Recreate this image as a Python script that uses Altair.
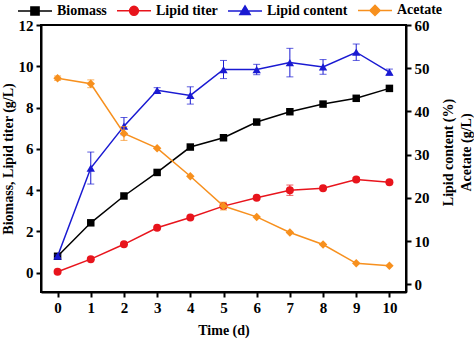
import altair as alt
import pandas as pd

days = list(range(11))
biomass = [0.80, 2.42, 3.72, 4.86, 6.09, 6.54, 7.30, 7.80, 8.17, 8.45, 8.93]
titer = [0.05, 0.66, 1.38, 2.18, 2.68, 3.23, 3.63, 4.00, 4.09, 4.52, 4.38]
titer_err = [0, 0, 0, 0, 0, 0, 0, 0.25, 0, 0.1, 0]
content = [6.5, 26.9, 36.6, 44.9, 43.7, 49.7, 49.7, 51.3, 50.3, 53.7, 49.1]
content_err = [0.3, 3.7, 2.0, 0.6, 2.0, 2.1, 1.2, 3.3, 1.7, 1.9, 0.7]
acetate = [47.7, 46.4, 34.9, 31.5, 25.0, 18.1, 15.6, 12.0, 9.2, 4.85, 4.3]
acetate_err = [0.5, 0.9, 1.6, 0, 0, 0.9, 0, 0, 0, 0, 0]

series_names = ["Biomass", "Lipid titer", "Lipid content", "Acetate"]
series_colors = ["#000000", "#e8141c", "#1a1ad2", "#f7901e"]
marker_shapes = ["square", "circle", "triangle-up", "diamond"]
marker_sizes = [56, 64, 70, 72]
legend_paths = [
    "M-1,0H1M-0.24,-0.24H0.24V0.24H-0.24Z",
    "M-1,0H1M0.26,0A0.26,0.26 0 1,1 -0.26,0A0.26,0.26 0 1,1 0.26,0Z",
    "M-1,0H1M0,-0.3L0.3,0.2L-0.3,0.2Z",
    "M-1,0H1M0,-0.3L0.3,0L0,0.3L-0.3,0Z",
]

FONT = "Liberation Serif"


def table(name, vals, errs=None):
    errs = errs or [0] * len(vals)
    return pd.DataFrame({
        "day": days,
        "value": vals,
        "lo": [v - e for v, e in zip(vals, errs)],
        "hi": [v + e for v, e in zip(vals, errs)],
        "err": errs,
        "series": name,
    })


x_enc = alt.X("day:Q", scale=alt.Scale(domain=[-0.5, 10.5], nice=False, zero=False),
              axis=alt.Axis(values=days, title="Time (d)", grid=False, tickSize=5,
                            labelPadding=3, titlePadding=8, format="d"))

left_axis = alt.Axis(values=[0, 2, 4, 6, 8, 10, 12], title="Biomass, Lipid titer (g/L)",
                     orient="left", grid=False, tickSize=5, labelPadding=3, titlePadding=3)
left_scale = alt.Scale(domain=[-0.93, 12], nice=False, zero=False)
right_axis = alt.Axis(values=[0, 10, 20, 30, 40, 50, 60], title=["Lipid content (%)", "Acetate (g/L)"],
                      orient="right", grid=False, tickSize=5, labelPadding=3,
                      titleAngle=270, titleLineHeight=18, titleX=42, titleY=127,
                      titleAlign="center", titleBaseline="middle")
right_scale = alt.Scale(domain=[-1.78, 60], nice=False, zero=False)


def series_layers(df, idx, axis, scale):
    color = series_colors[idx]
    base = alt.Chart(df)
    line = base.mark_line(color=color, strokeWidth=1.5).encode(
        x=x_enc, y=alt.Y("value:Q", scale=scale, axis=axis))
    layers = [line]
    if df["err"].sum() > 0:
        eb = base.transform_filter("datum.err > 0")
        layers.append(eb.mark_rule(color=color, strokeWidth=1).encode(
            x=x_enc, y=alt.Y("lo:Q", scale=scale, axis=axis), y2="hi:Q"))
        layers.append(eb.mark_tick(color=color, orient="horizontal", size=7, thickness=1).encode(
            x=x_enc, y=alt.Y("lo:Q", scale=scale, axis=axis)))
        layers.append(eb.mark_tick(color=color, orient="horizontal", size=7, thickness=1).encode(
            x=x_enc, y=alt.Y("hi:Q", scale=scale, axis=axis)))
    layers.append(base.mark_point(color=color, filled=True, opacity=1, shape=marker_shapes[idx],
                                  size=marker_sizes[idx]).encode(
        x=x_enc, y=alt.Y("value:Q", scale=scale, axis=axis)))
    return layers


df_bio = table("Biomass", biomass)
df_tit = table("Lipid titer", titer, titer_err)
df_con = table("Lipid content", content, content_err)
df_ace = table("Acetate", acetate, acetate_err)

legend = alt.Legend(title=None, orient="none", legendX=-24, legendY=-33, direction="horizontal",
                    columns=4, symbolSize=1156, symbolStrokeWidth=1.5, labelFont=FONT,
                    labelFontWeight="bold", labelFontSize=14, labelColor="black", labelOffset=4,
                    columnPadding=7, symbolOpacity=1)

legend_layer = alt.Chart(pd.concat([df_bio, df_tit])).mark_point(filled=True, opacity=0).encode(
    x=x_enc,
    y=alt.Y("value:Q", scale=left_scale, axis=left_axis),
    fill=alt.Fill("series:N", scale=alt.Scale(domain=series_names, range=series_colors), legend=legend),
    stroke=alt.Stroke("series:N", scale=alt.Scale(domain=series_names, range=series_colors), legend=legend),
    shape=alt.Shape("series:N", scale=alt.Scale(domain=series_names, range=legend_paths), legend=legend),
)

left = alt.layer(*(series_layers(df_bio, 0, left_axis, left_scale)
                   + series_layers(df_tit, 1, left_axis, left_scale)), legend_layer)
right = alt.layer(*(series_layers(df_con, 2, right_axis, right_scale)
                    + series_layers(df_ace, 3, right_axis, right_scale)))

chart = alt.layer(left, right).resolve_scale(y="independent").properties(
    width=365, height=267,
    autosize=alt.AutoSizeParams(type="none"),
    padding={"left": 41, "top": 25, "right": 68, "bottom": 47},
).configure_view(stroke="black", strokeWidth=2).configure_axis(
    domainColor="black", domainWidth=2, tickColor="black", tickWidth=2,
    labelFont=FONT, labelFontWeight="bold", labelFontSize=15, labelColor="black",
    titleFont=FONT, titleFontWeight="bold", titleFontSize=14, titleColor="black",
)

chart.save("out.html", embed_options={"renderer": "svg", "actions": False})
